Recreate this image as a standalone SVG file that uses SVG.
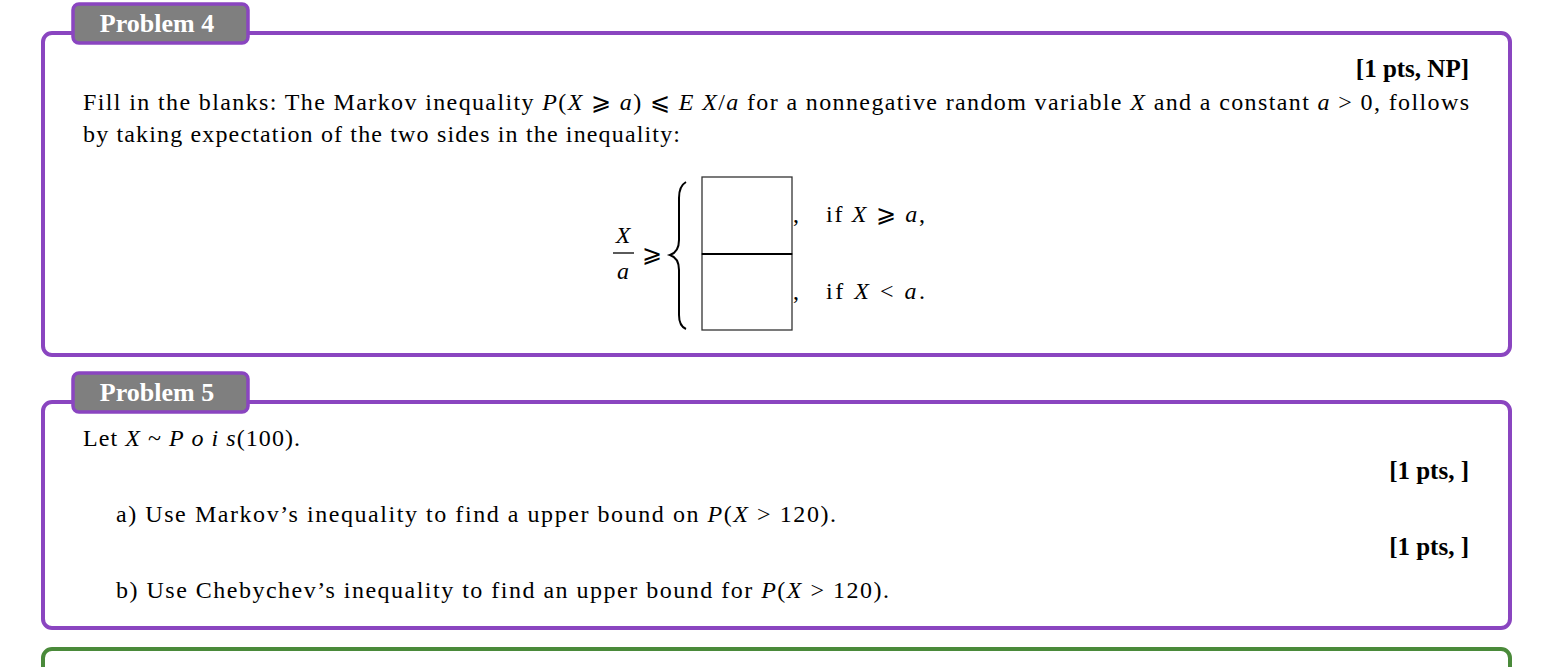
<svg xmlns="http://www.w3.org/2000/svg" width="1563" height="667" viewBox="0 0 1563 667">
<style>
.box{fill:#fff;stroke:#8a45c0;stroke-width:4}
.tab{fill:#7f7f7f;stroke:#8a45c0;stroke-width:3.5}
.tt{font-family:"Liberation Serif",serif;font-weight:bold;font-size:26px;fill:#fff}
text{font-family:"Liberation Serif",serif;font-size:24px;fill:#000}
.b{font-weight:bold;font-size:25px}
.i{font-style:italic}
.blank{fill:#fff;stroke:#333;stroke-width:1.3}
</style>
<rect width="1563" height="667" fill="#fff"/>
<g id="problem4">
<rect class="box" x="43" y="33" width="1467" height="322" rx="9"/>
<rect class="tab" x="73" y="4" width="175" height="39" rx="6"/>
<text class="tt" x="157" y="32" text-anchor="middle">Problem 4</text>
<text class="b" x="1469" y="77" text-anchor="end">[1 pts, NP]</text>
<text x="83" y="110" textLength="1386" lengthAdjust="spacing">Fill in the blanks: The Markov inequality <tspan class="i">P</tspan>(<tspan class="i">X</tspan> ⩾ <tspan class="i">a</tspan>) ⩽ <tspan class="i">E X</tspan>/<tspan class="i">a</tspan> for a nonnegative random variable <tspan class="i">X</tspan> and a constant <tspan class="i">a</tspan> &gt; 0, follows</text>
<text x="83" y="142" textLength="597" lengthAdjust="spacing">by taking expectation of the two sides in the inequality:</text>
<text class="i" x="623" y="243" text-anchor="middle">X</text>
<line x1="613" y1="253" x2="634" y2="253" stroke="#000" stroke-width="1.3"/>
<text class="i" x="623" y="279" text-anchor="middle">a</text>
<text x="642" y="262">⩾</text>
<path d="M686,182 Q679,186 679,198 L679,240 Q679,252 670,255 Q679,258 679,270 L679,315 Q679,326 686,329" fill="none" stroke="#000" stroke-width="2"/>
<rect class="blank" x="702" y="177" width="90" height="77"/>
<rect class="blank" x="702" y="254" width="90" height="76"/>
<line x1="702" y1="254" x2="792" y2="254" stroke="#000" stroke-width="2"/>
<text x="793" y="222">,</text>
<text x="793" y="299">,</text>
<text x="826" y="222" textLength="99" lengthAdjust="spacing">if <tspan class="i">X</tspan> ⩾ <tspan class="i">a</tspan>,</text>
<text x="826" y="299" textLength="99" lengthAdjust="spacing">if <tspan class="i">X</tspan> &lt; <tspan class="i">a</tspan>.</text>
</g>
<g id="problem5">
<rect class="box" x="43" y="402" width="1467" height="226" rx="9"/>
<rect class="tab" x="73" y="373" width="175" height="39" rx="6"/>
<text class="tt" x="157" y="401" text-anchor="middle">Problem 5</text>
<text x="83" y="446" textLength="217" lengthAdjust="spacing">Let <tspan class="i">X</tspan> ~ <tspan class="i">P o i s</tspan>(100).</text>
<text class="b" x="1469" y="479" text-anchor="end">[1 pts, ]</text>
<text x="116" y="522" textLength="720" lengthAdjust="spacing">a)  Use Markov’s inequality to find a upper bound on <tspan class="i">P</tspan>(<tspan class="i">X</tspan> &gt; 120).</text>
<text class="b" x="1469" y="555" text-anchor="end">[1 pts, ]</text>
<text x="116" y="598" textLength="773" lengthAdjust="spacing">b)  Use Chebychev’s inequality to find an upper bound for <tspan class="i">P</tspan>(<tspan class="i">X</tspan> &gt; 120).</text>
</g>
<g id="next">
<rect x="43" y="649" width="1467" height="60" rx="9" fill="#fff" stroke="#4a8a3a" stroke-width="4"/>
</g>
<g id="connectors"/>
</svg>
